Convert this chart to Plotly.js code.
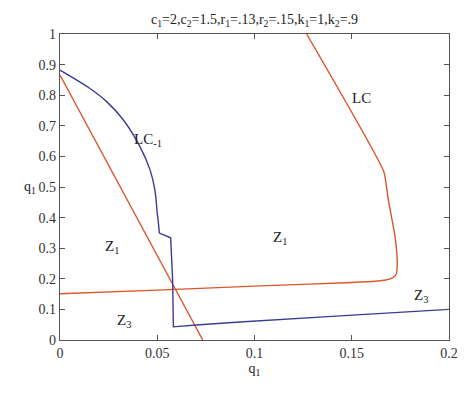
<!DOCTYPE html>
<html>
<head>
<meta charset="utf-8">
<script src="https://cdn.plot.ly/plotly-3.0.1.min.js"></script>
<style>html,body{margin:0;padding:0;background:#fff}#chart{width:474px;height:394px}</style>
</head>
<body>
<div id="chart"></div>
<script>
// Red straight line
const redLineX = [0, 0.0734];
const redLineY = [0.866, 0];
// Red LC curve
const lcX = [0, 0.05, 0.1, 0.15, 0.162, 0.1675, 0.171, 0.1728, 0.1734, 0.1732, 0.1722, 0.1705, 0.1688, 0.1665, 0.1268];
const lcY = [0.151, 0.163, 0.176, 0.188, 0.192, 0.196, 0.203, 0.215, 0.24, 0.28, 0.34, 0.4, 0.458, 0.55, 1.0];
// Blue LC-1 curve, smooth upper branch
const lcm1UpperX = [0, 0.0154, 0.024, 0.0326, 0.0411, 0.0463, 0.0488, 0.0500, 0.0503, 0.0511];
const lcm1UpperY = [0.882, 0.822, 0.779, 0.719, 0.632, 0.556, 0.49, 0.414, 0.40, 0.349];
// Blue LC-1 curve, lower piecewise branch
const lcm1LowerX = [0.0511, 0.0569, 0.0579, 0.0583, 0.07, 0.0925, 0.144, 0.2];
const lcm1LowerY = [0.349, 0.334, 0.196, 0.043, 0.049, 0.059, 0.079, 0.1];
// Region labels
const labelText = ["LC", "LC<sub>-1</sub>", "Z<sub>1</sub>", "Z<sub>1</sub>", "Z<sub>3</sub>", "Z<sub>3</sub>"];
const labelX = [0.1548, 0.0452, 0.0267, 0.113, 0.033, 0.1856];
const labelY = [0.791, 0.654, 0.304, 0.333, 0.062, 0.144];
const xTicks = [0, 0.05, 0.1, 0.15, 0.2];
const xTickText = ["0", "0.05", "0.1", "0.15", "0.2"];
const yTicks = [0, 0.1, 0.2, 0.3, 0.4, 0.5, 0.6, 0.7, 0.8, 0.9, 1];
const yTickText = ["0", "0.1", "0.2", "0.3", "0.4", "0.5", "0.6", "0.7", "0.8", "0.9", "1"];

const RED = '#d8582b', BLUE = '#3c3c96';
const FONT = 'Liberation Serif, DejaVu Serif, serif';

const traces = [
  {x: redLineX, y: redLineY, mode: 'lines', line: {color: RED, width: 1.4}, hoverinfo: 'skip'},
  {x: lcX, y: lcY, mode: 'lines', line: {color: RED, width: 1.4, shape: 'spline', smoothing: 0.4}, hoverinfo: 'skip'},
  {x: lcm1UpperX, y: lcm1UpperY, mode: 'lines', line: {color: BLUE, width: 1.4, shape: 'spline', smoothing: 1}, hoverinfo: 'skip'},
  {x: lcm1LowerX, y: lcm1LowerY, mode: 'lines', line: {color: BLUE, width: 1.4}, hoverinfo: 'skip'}
];

const annotations = labelText.map((t, i) => ({
  x: labelX[i], y: labelY[i], xref: 'x', yref: 'y', text: t, showarrow: false,
  font: {family: FONT, size: 15, color: '#222'}
}));
annotations.push({x: -0.097, y: 0.5, xref: 'paper', yref: 'paper', text: 'q<sub>1</sub>', showarrow: false,
  font: {family: FONT, size: 14, color: '#222'}});

const axisCommon = {
  showgrid: false, zeroline: false, showline: true, mirror: 'ticks',
  linecolor: '#555', linewidth: 1.3, ticks: 'inside', ticklen: 5, tickcolor: '#555',
  tickfont: {family: FONT, size: 14, color: '#333'}
};

const layout = {
  width: 474, height: 394,
  margin: {l: 60, r: 25, t: 34, b: 54},
  paper_bgcolor: '#fff', plot_bgcolor: '#fff',
  showlegend: false,
  title: {text: 'c<sub>1</sub>=2,c<sub>2</sub>=1.5,r<sub>1</sub>=.13,r<sub>2</sub>=.15,k<sub>1</sub>=1,k<sub>2</sub>=.9',
    font: {family: FONT, size: 14, color: '#222'}, x: 0.5, xanchor: 'center', y: 0.952, yanchor: 'middle', xref: 'paper'},
  xaxis: Object.assign({}, axisCommon, {range: [0, 0.2], tickvals: xTicks, ticktext: xTickText,
    title: {text: 'q<sub>1</sub>', font: {family: FONT, size: 14, color: '#222'}, standoff: 2}}),
  yaxis: Object.assign({}, axisCommon, {range: [0, 1], tickvals: yTicks, ticktext: yTickText}),
  annotations: annotations
};

Plotly.newPlot('chart', traces, layout, {displayModeBar: false, staticPlot: true});
</script>
</body>
</html>
